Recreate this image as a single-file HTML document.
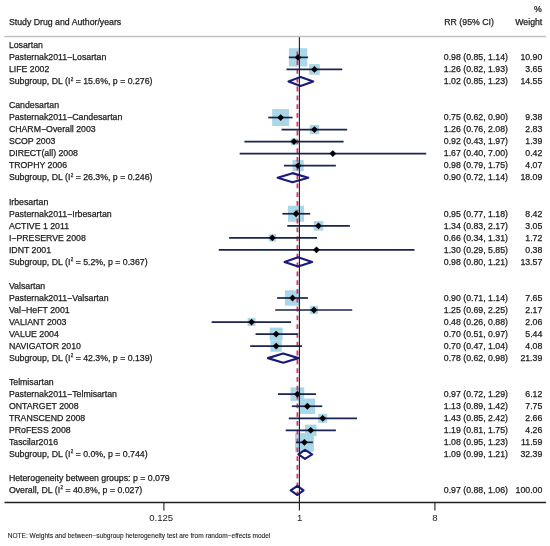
<!DOCTYPE html>
<html><head><meta charset="utf-8"><style>
html,body{margin:0;padding:0;background:#fff;}
svg{display:block;filter:blur(0.35px);}
text{font-family:"Liberation Sans",Arial,sans-serif;font-size:8.75px;fill:#1c1c1c;stroke:#1c1c1c;stroke-width:0.25px;}
.sup{font-size:4.6px;}
.note{font-size:6.55px;stroke-width:0.1px;}
.ax{font-size:9.6px;stroke-width:0;}
</style></head><body>
<svg width="550" height="546" viewBox="0 0 550 546">
<rect width="550" height="546" fill="#fff"/>
<g fill="#a9d7e7"><rect x="288.92" y="48.22" width="18.32" height="18.32"/><rect x="309.16" y="64.11" width="10.60" height="10.60"/><rect x="272.15" y="109.03" width="17.00" height="17.00"/><rect x="309.79" y="124.89" width="9.34" height="9.34"/><rect x="290.69" y="138.32" width="6.54" height="6.54"/><rect x="331.02" y="151.82" width="3.60" height="3.60"/><rect x="292.49" y="160.05" width="11.20" height="11.20"/><rect x="288.01" y="205.72" width="16.10" height="16.10"/><rect x="313.63" y="220.95" width="9.69" height="9.69"/><rect x="268.68" y="234.19" width="7.28" height="7.28"/><rect x="314.79" y="248.15" width="3.42" height="3.42"/><rect x="284.86" y="290.30" width="15.35" height="15.35"/><rect x="309.85" y="305.92" width="8.18" height="8.18"/><rect x="247.59" y="318.06" width="7.97" height="7.97"/><rect x="269.68" y="327.60" width="12.94" height="12.94"/><rect x="270.55" y="340.49" width="11.21" height="11.21"/><rect x="290.55" y="387.36" width="13.73" height="13.73"/><rect x="299.64" y="398.52" width="15.45" height="15.45"/><rect x="318.18" y="413.75" width="9.05" height="9.05"/><rect x="305.01" y="424.58" width="11.46" height="11.46"/><rect x="294.97" y="432.89" width="18.89" height="18.89"/></g>
<path d="M297.42 51.4V495.5" stroke="#d6336a" stroke-width="1.8" stroke-dasharray="4.8 4.0" stroke-dashoffset="0" fill="none"/>
<g stroke="#1a2452" stroke-width="1.7" fill="none"><path d="M288.81 57.38H307.94"/><path d="M286.47 69.41H342.25"/><path d="M268.25 117.53H292.53"/><path d="M281.52 129.56H347.13"/><path d="M244.40 141.59H343.59"/><path d="M239.69 153.62H426.21"/><path d="M284.04 165.65H335.87"/><path d="M282.37 213.77H310.19"/><path d="M287.26 225.80H349.89"/><path d="M229.10 237.83H317.00"/><path d="M218.73 249.86H414.51"/><path d="M277.08 297.98H307.94"/><path d="M275.22 310.01H352.25"/><path d="M211.62 322.04H291.07"/><path d="M255.52 334.07H297.42"/><path d="M250.20 346.10H301.96"/><path d="M277.99 394.22H315.99"/><path d="M291.81 406.25H322.25"/><path d="M288.81 418.28H356.99"/><path d="M285.67 430.31H335.87"/><path d="M296.06 442.34H312.89"/></g>
<g stroke="#1a1a7a" stroke-width="2.1" fill="none" stroke-linejoin="round"><path d="M288.46 81.44L300.69 76.89L313.24 81.44L300.69 85.99Z"/><path d="M277.64 177.68L292.53 173.13L308.29 177.68L292.53 182.23Z"/><path d="M284.51 261.89L298.08 257.34L312.17 261.89L298.08 266.44Z"/><path d="M267.90 358.13L283.21 353.58L298.43 358.13L283.21 362.68Z"/><path d="M298.40 454.37L305.02 449.82L312.17 454.37L305.02 458.92Z"/><path d="M290.72 490.46L297.42 485.91L303.55 490.46L297.42 495.01Z"/></g>
<g fill="#000"><path d="M294.68 57.38L298.08 53.98L301.48 57.38L298.08 60.78Z"/><path d="M311.06 69.41L314.46 66.01L317.86 69.41L314.46 72.81Z"/><path d="M277.25 117.53L280.65 114.13L284.05 117.53L280.65 120.93Z"/><path d="M311.06 129.56L314.46 126.16L317.86 129.56L314.46 132.96Z"/><path d="M290.57 141.59L293.97 138.19L297.37 141.59L293.97 144.99Z"/><path d="M329.42 153.62L332.82 150.22L336.22 153.62L332.82 157.02Z"/><path d="M294.68 165.65L298.08 162.25L301.48 165.65L298.08 169.05Z"/><path d="M292.66 213.77L296.06 210.37L299.46 213.77L296.06 217.17Z"/><path d="M315.07 225.80L318.47 222.40L321.87 225.80L318.47 229.20Z"/><path d="M268.92 237.83L272.32 234.43L275.72 237.83L272.32 241.23Z"/><path d="M313.10 249.86L316.50 246.46L319.90 249.86L316.50 253.26Z"/><path d="M289.13 297.98L292.53 294.58L295.93 297.98L292.53 301.38Z"/><path d="M310.54 310.01L313.94 306.61L317.34 310.01L313.94 313.41Z"/><path d="M248.17 322.04L251.57 318.64L254.97 322.04L251.57 325.44Z"/><path d="M272.76 334.07L276.16 330.67L279.56 334.07L276.16 337.47Z"/><path d="M272.76 346.10L276.16 342.70L279.56 346.10L276.16 349.50Z"/><path d="M294.02 394.22L297.42 390.82L300.82 394.22L297.42 397.62Z"/><path d="M303.96 406.25L307.36 402.85L310.76 406.25L307.36 409.65Z"/><path d="M319.31 418.28L322.71 414.88L326.11 418.28L322.71 421.68Z"/><path d="M307.34 430.31L310.74 426.91L314.14 430.31L310.74 433.71Z"/><path d="M301.02 442.34L304.42 438.94L307.82 442.34L304.42 445.74Z"/></g>
<path d="M299.40 36V510.5" stroke="#1a1a1a" stroke-width="1.1" fill="none"/>
<path d="M4.4 36.45H546.2" stroke="#c2c2c2" stroke-width="1.4"/>
<path d="M4.5 502.45H546.1" stroke="#222" stroke-width="1.5"/>
<path d="M163.89 502V510.5M434.91 502V510.5" stroke="#222" stroke-width="1.1"/>
<text x="8.9" y="24.6">Study Drug and Author/years</text>
<text x="444.3" y="24.5">RR (95% CI)</text>
<text x="542.3" y="24.5" text-anchor="end">Weight</text>
<text x="541.6999999999999" y="12.2" text-anchor="end">%</text>
<text x="8.9" y="48.25">Losartan</text><text x="8.9" y="60.27">Pasternak2011−Losartan</text><text x="443.8" y="60.27">0.98 (0.85, 1.14)</text><text x="542.3" y="60.27" text-anchor="end">10.90</text><text x="8.9" y="72.29">LIFE 2002</text><text x="443.8" y="72.29">1.26 (0.82, 1.93)</text><text x="542.3" y="72.29" text-anchor="end">3.65</text><text x="8.9" y="84.31">Subgroup, DL (I<tspan class="sup" dx="0.3" dy="-3.6">2</tspan><tspan dy="3.6"> = 15.6%, p = 0.276)</tspan></text><text x="443.8" y="84.31">1.02 (0.85, 1.23)</text><text x="542.3" y="84.31" text-anchor="end">14.55</text><text x="8.9" y="108.35">Candesartan</text><text x="8.9" y="120.37">Pasternak2011−Candesartan</text><text x="443.8" y="120.37">0.75 (0.62, 0.90)</text><text x="542.3" y="120.37" text-anchor="end">9.38</text><text x="8.9" y="132.39">CHARM−Overall 2003</text><text x="443.8" y="132.39">1.26 (0.76, 2.08)</text><text x="542.3" y="132.39" text-anchor="end">2.83</text><text x="8.9" y="144.41">SCOP 2003</text><text x="443.8" y="144.41">0.92 (0.43, 1.97)</text><text x="542.3" y="144.41" text-anchor="end">1.39</text><text x="8.9" y="156.43">DIRECT(all) 2008</text><text x="443.8" y="156.43">1.67 (0.40, 7.00)</text><text x="542.3" y="156.43" text-anchor="end">0.42</text><text x="8.9" y="168.45">TROPHY 2006</text><text x="443.8" y="168.45">0.98 (0.79, 1.75)</text><text x="542.3" y="168.45" text-anchor="end">4.07</text><text x="8.9" y="180.47">Subgroup, DL (I<tspan class="sup" dx="0.3" dy="-3.6">2</tspan><tspan dy="3.6"> = 26.3%, p = 0.246)</tspan></text><text x="443.8" y="180.47">0.90 (0.72, 1.14)</text><text x="542.3" y="180.47" text-anchor="end">18.09</text><text x="8.9" y="204.51">Irbesartan</text><text x="8.9" y="216.53">Pasternak2011−Irbesartan</text><text x="443.8" y="216.53">0.95 (0.77, 1.18)</text><text x="542.3" y="216.53" text-anchor="end">8.42</text><text x="8.9" y="228.55">ACTIVE 1 2011</text><text x="443.8" y="228.55">1.34 (0.83, 2.17)</text><text x="542.3" y="228.55" text-anchor="end">3.05</text><text x="8.9" y="240.57">I−PRESERVE 2008</text><text x="443.8" y="240.57">0.66 (0.34, 1.31)</text><text x="542.3" y="240.57" text-anchor="end">1.72</text><text x="8.9" y="252.59">IDNT 2001</text><text x="443.8" y="252.59">1.30 (0.29, 5.85)</text><text x="542.3" y="252.59" text-anchor="end">0.38</text><text x="8.9" y="264.61">Subgroup, DL (I<tspan class="sup" dx="0.3" dy="-3.6">2</tspan><tspan dy="3.6"> = 5.2%, p = 0.367)</tspan></text><text x="443.8" y="264.61">0.98 (0.80, 1.21)</text><text x="542.3" y="264.61" text-anchor="end">13.57</text><text x="8.9" y="288.65">Valsartan</text><text x="8.9" y="300.67">Pasternak2011−Valsartan</text><text x="443.8" y="300.67">0.90 (0.71, 1.14)</text><text x="542.3" y="300.67" text-anchor="end">7.65</text><text x="8.9" y="312.69">Val−HeFT 2001</text><text x="443.8" y="312.69">1.25 (0.69, 2.25)</text><text x="542.3" y="312.69" text-anchor="end">2.17</text><text x="8.9" y="324.71">VALIANT 2003</text><text x="443.8" y="324.71">0.48 (0.26, 0.88)</text><text x="542.3" y="324.71" text-anchor="end">2.06</text><text x="8.9" y="336.73">VALUE 2004</text><text x="443.8" y="336.73">0.70 (0.51, 0.97)</text><text x="542.3" y="336.73" text-anchor="end">5.44</text><text x="8.9" y="348.75">NAVIGATOR 2010</text><text x="443.8" y="348.75">0.70 (0.47, 1.04)</text><text x="542.3" y="348.75" text-anchor="end">4.08</text><text x="8.9" y="360.77">Subgroup, DL (I<tspan class="sup" dx="0.3" dy="-3.6">2</tspan><tspan dy="3.6"> = 42.3%, p = 0.139)</tspan></text><text x="443.8" y="360.77">0.78 (0.62, 0.98)</text><text x="542.3" y="360.77" text-anchor="end">21.39</text><text x="8.9" y="384.81">Telmisartan</text><text x="8.9" y="396.83">Pasternak2011−Telmisartan</text><text x="443.8" y="396.83">0.97 (0.72, 1.29)</text><text x="542.3" y="396.83" text-anchor="end">6.12</text><text x="8.9" y="408.85">ONTARGET 2008</text><text x="443.8" y="408.85">1.13 (0.89, 1.42)</text><text x="542.3" y="408.85" text-anchor="end">7.75</text><text x="8.9" y="420.87">TRANSCEND 2008</text><text x="443.8" y="420.87">1.43 (0.85, 2.42)</text><text x="542.3" y="420.87" text-anchor="end">2.66</text><text x="8.9" y="432.89">PRoFESS 2008</text><text x="443.8" y="432.89">1.19 (0.81, 1.75)</text><text x="542.3" y="432.89" text-anchor="end">4.26</text><text x="8.9" y="444.91">Tascilar2016</text><text x="443.8" y="444.91">1.08 (0.95, 1.23)</text><text x="542.3" y="444.91" text-anchor="end">11.59</text><text x="8.9" y="456.93">Subgroup, DL (I<tspan class="sup" dx="0.3" dy="-3.6">2</tspan><tspan dy="3.6"> = 0.0%, p = 0.744)</tspan></text><text x="443.8" y="456.93">1.09 (0.99, 1.21)</text><text x="542.3" y="456.93" text-anchor="end">32.39</text><text x="8.9" y="480.97">Heterogeneity between groups: p = 0.079</text><text x="8.9" y="492.99">Overall, DL (I<tspan class="sup" dx="0.3" dy="-3.6">2</tspan><tspan dy="3.6"> = 40.8%, p = 0.027)</tspan></text><text x="443.8" y="492.99">0.97 (0.88, 1.06)</text><text x="542.3" y="492.99" text-anchor="end">100.00</text>
<text class="ax" x="149.2" y="520.9">0.125</text>
<text class="ax" x="299.60" y="520.9" text-anchor="middle">1</text>
<text class="ax" x="434.91" y="520.9" text-anchor="middle">8</text>
<text class="note" x="7.8" y="537.5">NOTE: Weights and between−subgroup heterogeneity test are from random−effects model</text>
</svg>
</body></html>
